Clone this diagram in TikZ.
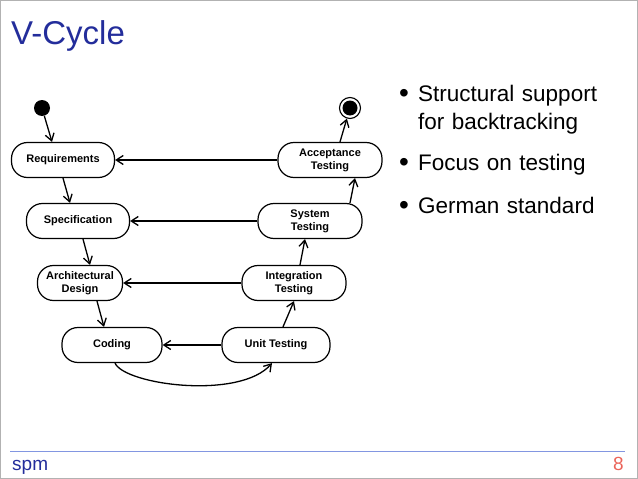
\documentclass[tikz,border=0pt]{standalone}
\usepackage{fontspec}
\setmainfont{Liberation Sans}
\usetikzlibrary{arrows.meta}
\definecolor{slideblue}{RGB}{35,45,155}
\definecolor{slidered}{RGB}{235,100,90}
\definecolor{ruleblue}{RGB}{130,150,225}
\tikzset{
  st/.style={draw,line width=1.2pt,rounded corners=16pt,minimum height=35pt,
    align=center,font=\bfseries\fontsize{11}{13}\selectfont,inner sep=1pt},
  ar/.style={-{Straight Barb[length=7pt,width=9pt,line width=1.3pt]},line width=1.3pt},
  bul/.style={anchor=north west,align=left,font=\fontsize{22.5}{28}\selectfont,text width=230pt,inner sep=0pt}
}
\newcommand{\bdot}{\makebox[19pt][l]{\fontsize{28}{28}\selectfont\raisebox{-1pt}{•}}}
\begin{document}
\begin{tikzpicture}[x=1pt,y=-1pt]
\useasboundingbox (0,0) rectangle (638,479);
\draw[gray!60,line width=1pt] (0.5,0.5) rectangle (637.5,478.5);
\node[anchor=base west,text=slideblue,font=\fontsize{33}{33}\selectfont,inner sep=0pt] (title) at (11,45) {V-Cycle};
% states
\node[st,minimum width=103pt] (req) at (63,160) {Requirements};
\node[st,minimum width=104pt] (acc) at (330,160) {Acceptance\\Testing};
\node[st,minimum width=103pt] (spec) at (78,221) {Specification};
\node[st,minimum width=104pt] (sys) at (310,221) {System\\Testing};
\node[st,minimum width=85pt] (arch) at (80,283) {Architectural\\Design};
\node[st,minimum width=104pt] (integ) at (294,283) {Integration\\Testing};
\node[st,minimum width=100pt] (cod) at (112,345) {Coding};
\node[st,minimum width=108pt] (unit) at (276,345) {Unit Testing};
\node[circle,fill,inner sep=0pt,minimum size=16pt] (start) at (42,108) {};
\node[circle,draw,line width=1.1pt,inner sep=0pt,minimum size=21pt] (fin) at (350,108) {};
\node[circle,fill,inner sep=0pt,minimum size=15pt] (finc) at (350,108) {};
% transitions
\draw[ar] (start) -- ([xshift=-11pt]req.north);
\draw[ar] (req.south) -- ([xshift=-8pt]spec.north);
\draw[ar] ([xshift=5pt]spec.south) -- ([xshift=10pt]arch.north);
\draw[ar] ([xshift=17pt]arch.south) -- ([xshift=-8pt]cod.north);
\draw[ar] ([xshift=3pt]cod.south) .. controls (125,385) and (240,400) .. ([xshift=-4pt]unit.south);
\draw[ar] ([xshift=7pt]unit.north) -- (integ.south);
\draw[ar] ([xshift=6pt]integ.north) -- ([xshift=-5pt]sys.north |- sys.south);
\draw[ar] ([xshift=40pt]sys.north) -- ([xshift=25pt]acc.south);
\draw[ar] ([xshift=10pt]acc.north) -- (fin);
\draw[ar] (acc) -- (req);
\draw[ar] (sys) -- (spec);
\draw[ar] (integ) -- (arch);
\draw[ar] (unit) -- (cod);
% bullets
\node[bul] (b1) at (399,85) {\bdot Structural support\\\hspace*{19pt}for backtracking};
\node[bul] (b2) at (399,154) {\bdot Focus on testing};
\node[bul] (b3) at (399,197) {\bdot German standard};
% footer
\coordinate (fl) at (10,451);
\coordinate (fr) at (625,451);
\draw[ruleblue,line width=0.8pt] (fl) -- (fr);
\node[anchor=base west,text=slideblue,font=\fontsize{19}{19}\selectfont,inner sep=0pt] (spm) at (12,470) {spm};
\node[anchor=base east,text=slidered,font=\fontsize{19}{19}\selectfont,inner sep=0pt] (pg) at (624,470) {8};
\end{tikzpicture}
\end{document}
